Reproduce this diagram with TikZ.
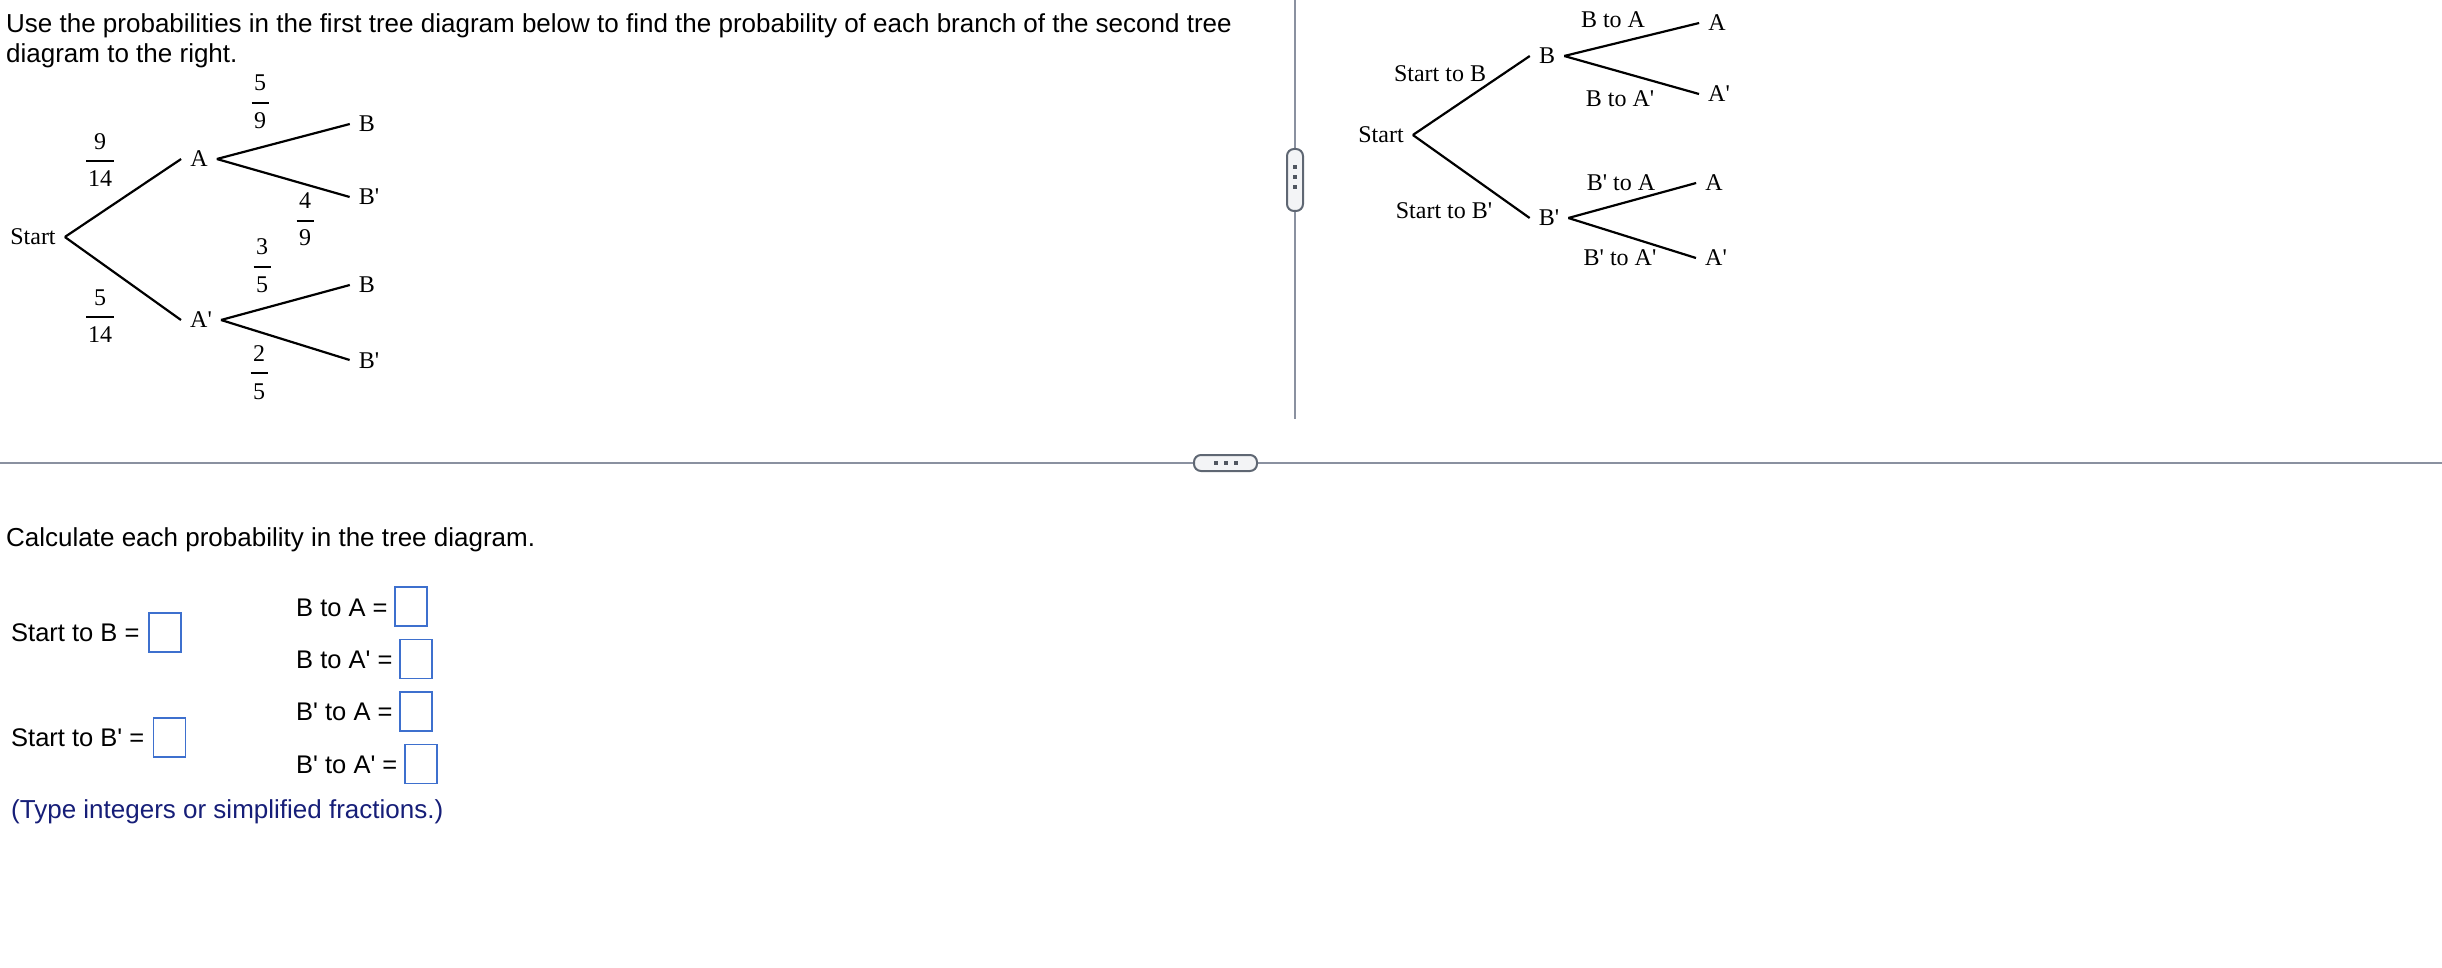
\documentclass[tikz,border=0pt]{standalone}
\usepackage{fontspec}
\setmainfont{Liberation Serif}[Ligatures=TeXOff]
\newfontfamily\sansf{Liberation Sans}[Ligatures=TeXOff]
\definecolor{divgray}{RGB}{138,145,160}
\definecolor{handleedge}{RGB}{95,103,115}
\definecolor{handlefill}{RGB}{243,244,246}
\definecolor{dotgray}{RGB}{80,86,96}
\definecolor{boxblue}{RGB}{62,112,206}
\definecolor{navy}{RGB}{22,30,120}
\begin{document}
\begin{tikzpicture}[x=1pt,y=-1pt,
  tl/.style={font=\fontsize{24}{28}\selectfont, text height=16pt, text depth=0pt, inner xsep=9pt, inner ysep=2pt},
  el/.style={font=\fontsize{24}{28}\selectfont, text height=16pt, text depth=0pt, inner sep=0pt},
  fr/.style={font=\fontsize{24}{28}\selectfont, text height=16pt, text depth=0pt, inner sep=0pt},
  branch/.style={line width=2.2pt},
  fbar/.style={line width=2pt},
  st/.style={font=\sansf\fontsize{26}{30}\selectfont, anchor=base west, inner sep=0pt},
  qt/.style={font=\sansf\fontsize{25.5}{30}\selectfont, anchor=base west, inner sep=0pt},
  ansbox/.style={draw=boxblue, line width=1.6pt, minimum width=32pt, minimum height=39pt, inner sep=0pt},
  divider/.style={draw=divgray, line width=2.2pt},
  handle/.style={draw=handleedge, fill=handlefill, line width=2pt, rounded corners=7pt},
  hdot/.style={fill=dotgray, inner sep=0pt, minimum size=4.5pt}
]
\useasboundingbox (0,0) rectangle (2442,968);

% header
\node[st] (h1) at (6,33) {Use the probabilities in the first tree diagram below to find the probability of each branch of the second tree};
\node[st] (h2) at (6,63) {diagram to the right.};

% tree 1
\node[tl] (s1) at (33,237) {Start};
\node[tl] (a1) at (199,159) {A};
\node[tl] (ap1) at (201,320) {A'};
\node[tl] (b1) at (367,124) {B};
\node[tl] (bp1) at (369,197) {B'};
\node[tl] (b2) at (367,285) {B};
\node[tl] (bp2) at (369,360) {B'};
\draw[branch] (s1.east) -- (a1.west);
\draw[branch] (s1.east) -- (ap1.west);
\draw[branch] (a1.east) -- (b1.west);
\draw[branch] (a1.east) -- (bp1.west);
\draw[branch] (ap1.east) -- (b2.west);
\draw[branch] (ap1.east) -- (bp2.west);

% fractions
\node[fr] (f1n) at (100,142) {9};
\node[fr] (f1d) at (100,179) {14};
\draw[fbar] (86,161) -- (114,161);
\node[fr] (f2n) at (100,298) {5};
\node[fr] (f2d) at (100,335) {14};
\draw[fbar] (86,317) -- (114,317);
\node[fr] (f3n) at (260,83) {5};
\node[fr] (f3d) at (260,121) {9};
\draw[fbar] (251.5,103) -- (268.5,103);
\node[fr] (f4n) at (305,201) {4};
\node[fr] (f4d) at (305,238) {9};
\draw[fbar] (296.5,221) -- (313.5,221);
\node[fr] (f5n) at (262,247) {3};
\node[fr] (f5d) at (262,285) {5};
\draw[fbar] (253.5,267) -- (270.5,267);
\node[fr] (f6n) at (259,353) {2};
\node[fr] (f6d) at (259,391) {5};
\draw[fbar] (250.5,373) -- (267.5,373);

% dividers
\draw[divider] (1295,0) -- (1295,419);
\draw[handle] (1287,149) rectangle (1303,211);
\node[hdot] (vd1) at (1295,167) {};
\node[hdot] (vd2) at (1295,177) {};
\node[hdot] (vd3) at (1295,187) {};
\draw[divider] (0,463) -- (2442,463);
\draw[handle] (1194,455) rectangle (1257,471);
\node[hdot] (hd1) at (1216,463) {};
\node[hdot] (hd2) at (1226,463) {};
\node[hdot] (hd3) at (1236,463) {};

% tree 2
\node[tl] (s2) at (1381,135) {Start};
\node[tl] (b3) at (1547,56) {B};
\node[tl] (bp3) at (1549,218) {B'};
\node[tl] (a3) at (1717,23) {A};
\node[tl] (ap3) at (1719,94) {A'};
\node[tl] (a4) at (1714,183) {A};
\node[tl] (ap4) at (1716,258) {A'};
\draw[branch] (s2.east) -- (b3.west);
\draw[branch] (s2.east) -- (bp3.west);
\draw[branch] (b3.east) -- (a3.west);
\draw[branch] (b3.east) -- (ap3.west);
\draw[branch] (bp3.east) -- (a4.west);
\draw[branch] (bp3.east) -- (ap4.west);
\node[el] (l1) at (1440,74) {Start to B};
\node[el] (l2) at (1444,211) {Start to B'};
\node[el] (l3) at (1613,20) {B to A};
\node[el] (l4) at (1620,99) {B to A'};
\node[el] (l5) at (1621,183) {B' to A};
\node[el] (l6) at (1620,258) {B' to A'};

% questions
\node[st] (q0) at (6,546) {Calculate each probability in the tree diagram.};
\node[qt] (q1) at (11,641) {Start to B =};
\node[ansbox] (x1) at (165,632.5) {};
\node[qt] (q2) at (296,616) {B to A =};
\node[ansbox] (x2) at (411,606.5) {};
\node[qt] (q3) at (296,668) {B to A' =};
\node[ansbox] (x3) at (416,659) {};
\node[qt] (q4) at (296,720) {B' to A =};
\node[ansbox] (x4) at (416,711.5) {};
\node[qt] (q5) at (11,746) {Start to B' =};
\node[ansbox] (x5) at (169.5,737.5) {};
\node[qt] (q6) at (296,773) {B' to A' =};
\node[ansbox] (x6) at (421,764) {};
\node[st, text=navy] (note) at (11,818) {(Type integers or simplified fractions.)};
\end{tikzpicture}
\end{document}
